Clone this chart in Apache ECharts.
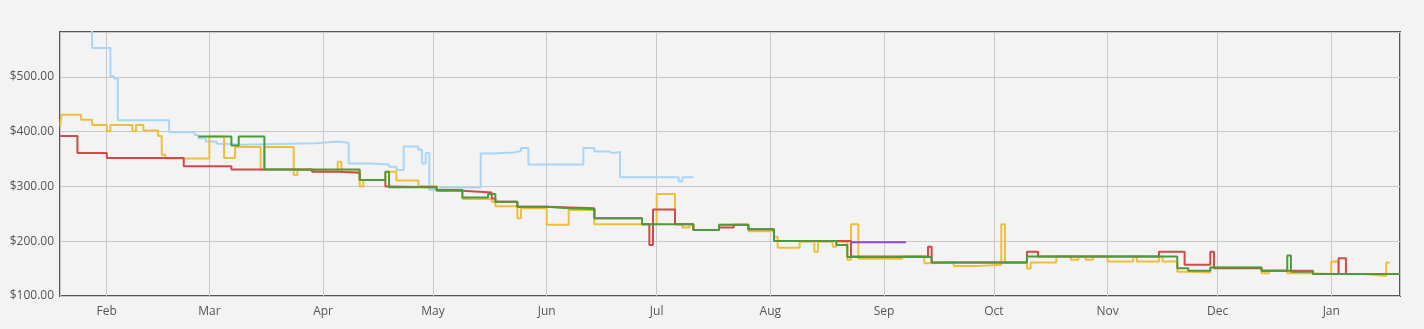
<!DOCTYPE html>
<html>
<head>
<meta charset="utf-8">
<title>Price history</title>
<script src="https://cdn.jsdelivr.net/npm/echarts@6/dist/echarts.min.js"></script>
<style>
  html, body { margin: 0; padding: 0; background: #f3f3f3; }
  #chart { width: 1424px; height: 329px; }
</style>
</head>
<body>
<div id="chart"></div>
<script>
// Price history per seller: [date, price] pairs, drawn as step lines.
const sellerBlue = [
  ['2022-01-27', 620], ['2022-01-28', 553], ['2022-02-02', 501], ['2022-02-03', 497],
  ['2022-02-04', 421], ['2022-02-18', 399], ['2022-02-25', 394], ['2022-02-26', 388],
  ['2022-02-28', 382], ['2022-03-03', 378], ['2022-03-05', 376], ['2022-03-10', 379],
  ['2022-03-30', 382], ['2022-04-05', 380], ['2022-04-08', 342], ['2022-04-14', 340],
  ['2022-04-19', 336], ['2022-04-21', 330], ['2022-04-23', 373], ['2022-04-27', 367],
  ['2022-04-28', 342], ['2022-04-29', 361], ['2022-04-30', 294], ['2022-05-03', 298],
  ['2022-05-14', 360], ['2022-05-17', 362], ['2022-05-23', 365], ['2022-05-25', 370],
  ['2022-05-27', 340], ['2022-06-11', 370], ['2022-06-14', 364], ['2022-06-18', 361],
  ['2022-06-19', 363], ['2022-06-21', 317], ['2022-07-07', 309], ['2022-07-08', 317],
  ['2022-07-11', 317]
];

const sellerYellow = [
  ['2022-01-19T08:00', 410], ['2022-01-19T14:00', 431], ['2022-01-25', 422], ['2022-01-28', 412],
  ['2022-02-01', 401], ['2022-02-02', 412], ['2022-02-08', 401], ['2022-02-09', 412],
  ['2022-02-11', 402], ['2022-02-15', 392], ['2022-02-16', 358], ['2022-02-17', 351],
  ['2022-03-01', 391], ['2022-03-05', 352], ['2022-03-08', 372], ['2022-03-15', 331],
  ['2022-03-16', 372], ['2022-03-24', 321], ['2022-03-25', 330], ['2022-03-29', 327],
  ['2022-04-05', 345], ['2022-04-06', 327], ['2022-04-11', 300], ['2022-04-12', 312],
  ['2022-04-18', 327], ['2022-04-21', 311], ['2022-04-27', 301], ['2022-05-02', 294],
  ['2022-05-09', 277], ['2022-05-17', 272], ['2022-05-18', 264], ['2022-05-24', 242],
  ['2022-05-25', 260], ['2022-06-01', 230], ['2022-06-07', 257], ['2022-06-14', 231],
  ['2022-07-01', 286], ['2022-07-06', 231], ['2022-07-08', 225], ['2022-07-10', 231],
  ['2022-07-11', 220.5], ['2022-07-18', 230], ['2022-07-26', 218], ['2022-08-02', 208],
  ['2022-08-03', 188], ['2022-08-09', 199], ['2022-08-13', 181], ['2022-08-14', 199],
  ['2022-08-18', 190], ['2022-08-19', 199], ['2022-08-22', 166], ['2022-08-23', 231],
  ['2022-08-25', 168], ['2022-09-06', 172], ['2022-09-12', 160], ['2022-09-13', 161],
  ['2022-09-20', 155], ['2022-09-27', 157], ['2022-10-03', 231], ['2022-10-04', 161],
  ['2022-10-10', 150], ['2022-10-11', 161], ['2022-10-18', 172], ['2022-10-22', 166],
  ['2022-10-24', 172], ['2022-10-26', 166], ['2022-10-28', 172], ['2022-11-01', 163],
  ['2022-11-08', 172], ['2022-11-09', 163], ['2022-11-15', 172], ['2022-11-16', 163],
  ['2022-11-20', 144.5], ['2022-11-23', 143], ['2022-11-29', 152], ['2022-12-13', 141.5],
  ['2022-12-15', 146], ['2022-12-20', 141.5], ['2022-12-26', 140], ['2023-01-01', 163],
  ['2023-01-03', 140], ['2023-01-10', 136.5], ['2023-01-16', 161], ['2023-01-17', 161]
];

const sellerRed = [
  ['2022-01-19T08:00', 392], ['2022-01-24', 361], ['2022-02-01', 352], ['2022-02-22', 337],
  ['2022-03-07', 331], ['2022-03-29', 327], ['2022-04-05', 325], ['2022-04-11', 312],
  ['2022-04-18', 300], ['2022-04-19', 298.5], ['2022-05-02', 292], ['2022-05-09', 289],
  ['2022-05-17', 278], ['2022-05-18', 272], ['2022-05-24', 263], ['2022-06-01', 260],
  ['2022-06-14', 242], ['2022-06-27', 231], ['2022-06-29', 193], ['2022-06-30', 258],
  ['2022-07-06', 231], ['2022-07-11', 220.5], ['2022-07-18', 225], ['2022-07-22', 230],
  ['2022-07-26', 222], ['2022-08-02', 200.5], ['2022-08-23', 172], ['2022-09-13', 190],
  ['2022-09-14', 161], ['2022-10-10', 181], ['2022-10-13', 172], ['2022-11-15', 181],
  ['2022-11-22', 157], ['2022-11-29', 181], ['2022-11-30', 150.5], ['2022-12-13', 146],
  ['2022-12-27', 140], ['2023-01-03', 169], ['2023-01-05', 140], ['2023-01-06', 140]
];

const sellerGreen = [
  ['2022-02-26', 391], ['2022-03-07', 375], ['2022-03-09', 391], ['2022-03-16', 331],
  ['2022-04-11', 312], ['2022-04-18', 327], ['2022-04-19', 298.5], ['2022-05-02', 293.6],
  ['2022-05-09', 280], ['2022-05-16', 286], ['2022-05-18', 272], ['2022-05-24', 263],
  ['2022-06-01', 260], ['2022-06-07', 259], ['2022-06-14', 242], ['2022-06-27', 231],
  ['2022-07-11', 220.5], ['2022-07-18', 230], ['2022-07-26', 222], ['2022-08-02', 200.5],
  ['2022-08-19', 193], ['2022-08-22', 171], ['2022-09-14', 161], ['2022-10-10', 172],
  ['2022-11-20', 150.5], ['2022-11-23', 146], ['2022-11-29', 152], ['2022-12-13', 146],
  ['2022-12-20', 174], ['2022-12-21', 144.5], ['2022-12-27', 140], ['2023-01-19T18:00', 140]
];

const sellerPurple = [
  ['2022-08-23', 198], ['2022-09-07', 198]
];

const monthNames = ['Jan', 'Feb', 'Mar', 'Apr', 'May', 'Jun', 'Jul', 'Aug', 'Sep', 'Oct', 'Nov', 'Dec'];
const priceTicks = [100, 200, 300, 400, 500];

const chart = echarts.init(document.getElementById('chart'), null, { renderer: 'canvas' });

function stepSeries(data, color) {
  return {
    type: 'line',
    step: 'end',
    data: data,
    showSymbol: false,
    symbol: 'none',
    clip: true,
    lineStyle: { color: color, width: 2 },
    emphasis: { disabled: true }
  };
}

chart.setOption({
  animation: false,
  backgroundColor: '#f3f3f3',
  textStyle: { fontFamily: '"Open Sans", "Noto Sans", sans-serif' },
  grid: {
    left: 60, right: 24, top: 32, bottom: 33,
    show: true,
    backgroundColor: '#f3f3f3',
    borderColor: '#555',
    borderWidth: 2
  },
  xAxis: {
    type: 'time',
    min: '2022-01-19T06:00',
    max: '2023-01-19T18:00',
    splitNumber: 12,
    minInterval: 28 * 86400000,
    axisLine: { show: false },
    axisTick: { show: false },
    splitLine: { show: true, lineStyle: { color: '#c8c8c8', width: 1 } },
    axisLabel: {
      color: '#555',
      fontSize: 12,
      margin: 10,
      formatter: function (v) { return monthNames[new Date(v).getMonth()]; }
    }
  },
  yAxis: {
    type: 'value',
    min: 100,
    max: 582,
    interval: 100,
    axisLine: { show: false },
    axisTick: { show: false },
    splitLine: { show: true, lineStyle: { color: '#c8c8c8', width: 1 } },
    axisLabel: {
      color: '#555',
      fontSize: 12,
      margin: 6,
      showMaxLabel: false,
      formatter: function (v) {
        return priceTicks.indexOf(v) >= 0 ? '$' + v.toFixed(2) : '';
      }
    }
  },
  series: [
    stepSeries(sellerBlue, '#abd5f5'),
    stepSeries(sellerYellow, '#efbe3c'),
    stepSeries(sellerRed, '#d24a47'),
    stepSeries(sellerGreen, '#4b9b3c'),
    stepSeries(sellerPurple, '#8e48dc')
  ]
});
</script>
</body>
</html>
